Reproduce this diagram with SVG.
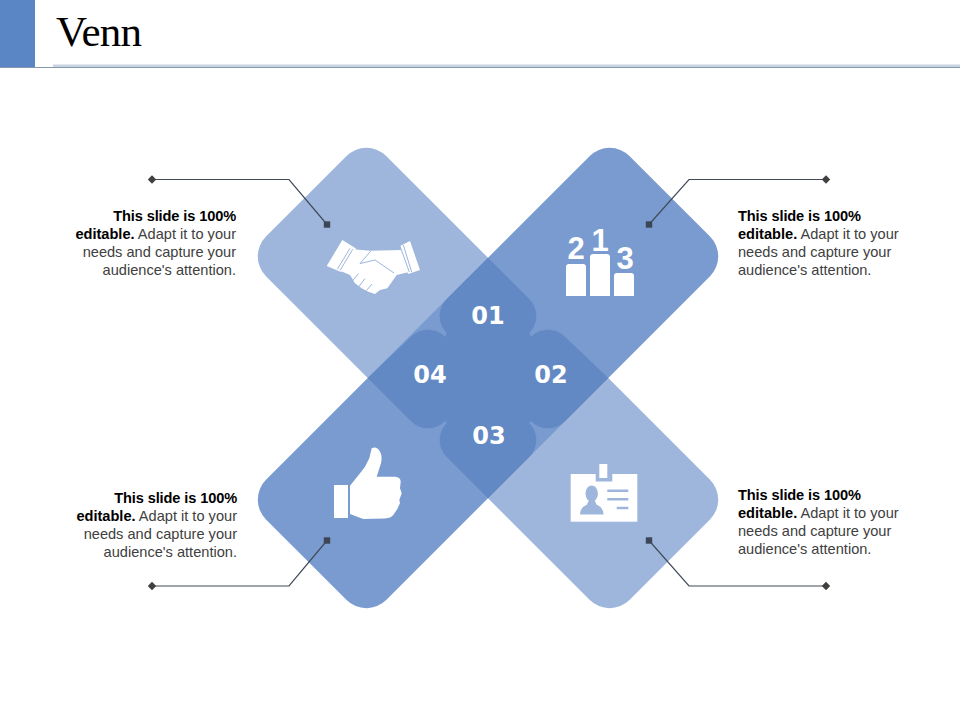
<svg xmlns="http://www.w3.org/2000/svg" width="960" height="720" viewBox="0 0 960 720">
<style>
.lt{fill:#9eb6dc}.dk{fill:#7a9bcf}.pet{fill:#6289c4;stroke:#6289c4;stroke-width:.5}
.w{fill:#fff}
.num{font:bold 24px "DejaVu Sans",sans-serif;fill:#fff;text-anchor:middle}
.pod{font:bold 31px "Liberation Sans",Arial,sans-serif;fill:#fff;text-anchor:middle}
.tx{font:14.6px "Liberation Sans",Arial,sans-serif;fill:#404040}
.tx .b{font-weight:bold;fill:#000}
.h{letter-spacing:-.12px}
.r{text-anchor:end}
.cn{fill:none;stroke:#404a58;stroke-width:1.2;marker-start:url(#dia);marker-end:url(#sq)}
.sl{fill:none;stroke:#9eb6dc;stroke-width:1}
</style>
<defs>
<marker id="dia" markerUnits="userSpaceOnUse" markerWidth="10" markerHeight="10" refX="5" refY="5" orient="0"><path d="M5 .8L9.200 5L5 9.200L.8 5Z" fill="#404040"/></marker>
<marker id="sq" markerUnits="userSpaceOnUse" markerWidth="10" markerHeight="10" refX="5" refY="5" orient="0"><rect x="1.800" y="1.800" width="6.400" height="6.400" fill="#3c4656"/></marker>
</defs>
<rect width="960" height="720" fill="#fff"/>
<g id="header">
<rect x="0" y="0" width="35" height="67.500" fill="#5b86c5"/>
<rect x="53" y="64.500" width="907" height="2.500" fill="#c6d4e4"/>
<rect x="0" y="67" width="960" height="1" fill="#8797ab"/>
<text x="56" y="46" font-family="'Liberation Serif','Times New Roman',serif" font-size="43" letter-spacing="-.8" fill="#000">Venn</text>
</g>
<g id="band-a"><rect class="lt" x="231" y="293" width="514" height="170" rx="28" transform="rotate(45 488 378)"/></g>
<g id="band-b"><rect class="dk" x="231" y="293" width="514" height="170" rx="28" transform="rotate(-45 488 378)"/></g>
<g id="node-01"><path class="pet" d="M488 258L529 299A24 24 0 0 1 529 333L530 335L488 378L446 335L447 333A24 24 0 0 1 447 299Z"/><text class="num" x="488" y="324">01</text></g>
<g id="node-02"><path class="pet" d="M608 378L565 421A24 24 0 0 1 531 421L530 421L488 378L530 335L531 337A24 24 0 0 1 565 337Z"/><text class="num" x="551" y="383">02</text></g>
<g id="node-03"><path class="pet" d="M488 498L529 457A24 24 0 0 0 529 423L530 421L488 378L446 421L447 423A24 24 0 0 0 447 457Z"/><text class="num" x="489" y="444">03</text></g>
<g id="node-04"><path class="pet" d="M368 378L411 421A24 24 0 0 0 445 421L446 421L488 378L446 335L445 337A24 24 0 0 0 411 337Z"/><text class="num" x="430" y="383">04</text></g>
<g id="icon-handshake">
<path class="w" d="M342.300 240L356 248.500L341 272L326.700 266Z"/>
<path class="w" d="M400 246L410 241L420 270L408 274Z"/>
<path class="w" d="M353.300 249.300L370 250.700L402 250L410 271.700L396.700 275L387.300 288.300L380 290L375 294L368.300 291.700L361.700 288.300L355 283.300L350 275L338.300 270Z"/>
<path class="sl" d="M350 248.300L337.300 269.300M352.700 249.300L340 270.500M400 246L409.300 272M403.300 245L411.700 272M371 250.700L360 263.500L375 260L394 273M358.500 273.500L352 281.500M365 278.500L358.500 287M372 284L366.500 290.500"/>
</g>
<g id="icon-podium">
<path class="w" d="M566 296V267a3 3 0 0 1 3-3H583a3 3 0 0 1 3 3V296Z"/>
<path class="w" d="M590 296V257a3 3 0 0 1 3-3H607a3 3 0 0 1 3 3V296Z"/>
<path class="w" d="M614 296V276a3 3 0 0 1 3-3H631a3 3 0 0 1 3 3V296Z"/>
<text class="pod" x="576" y="259">2</text><text class="pod" x="600" y="251">1</text><text class="pod" x="625" y="269">3</text>
</g>
<g id="icon-thumb">
<rect class="w" x="334" y="485" width="14" height="33"/>
<path class="w" d="M350 485.700L360 473.300L365 466.700L369.300 458.300L371.700 448.300Q376.700 446 380 451.500Q382.500 456 381 463.300L376.700 476.700H395Q400.700 477 400.700 481.700L400 488.300L401.700 493.300L399.300 500L400 503.300L397.300 509L393.300 515Q391 518 385 518.500L363.300 519L350 514Z"/>
</g>
<g id="icon-card">
<rect class="w" x="570.700" y="474" width="66.600" height="47.700"/>
<rect x="595.700" y="474" width="16.600" height="7.500" fill="#9eb6dc"/>
<rect class="w" x="599.300" y="464" width="8" height="14"/>
<ellipse cx="591.700" cy="493.500" rx="6.200" ry="8" fill="#9eb6dc"/>
<path d="M580 514.500Q580 507.500 587 504.500L589 500H594.500L596.500 504.500Q603.500 507.500 603.500 514.500Z" fill="#9eb6dc"/>
<path d="M607.300 490.700H628.300M607.300 499.300H628.300M616.700 508H628.300" fill="none" stroke="#9eb6dc" stroke-width="2.600"/>
</g>
<g id="connectors">
<path class="cn" d="M152 179.500H289L327 224.500"/>
<path class="cn" d="M826 179.500H689L649 224.500"/>
<path class="cn" d="M152 586H289L327 540.500"/>
<path class="cn" d="M826 586H689L649 540.500"/>
</g>
<g id="label-tl"><text class="tx r"><tspan class="b h" x="236" y="221">This slide is 100%</tspan></text><text class="tx r" x="236" y="239"><tspan class="b">editable.</tspan> Adapt it to your</text><text class="tx r" x="236" y="256.500">needs and capture your</text><text class="tx r" x="236" y="274.500">audience's attention.</text></g>
<g id="label-tr"><text class="tx"><tspan class="b h" x="738" y="221">This slide is 100%</tspan></text><text class="tx" x="738" y="239"><tspan class="b">editable.</tspan> Adapt it to your</text><text class="tx" x="738" y="256.500">needs and capture your</text><text class="tx" x="738" y="274.500">audience's attention.</text></g>
<g id="label-bl"><text class="tx r"><tspan class="b h" x="237" y="503">This slide is 100%</tspan></text><text class="tx r" x="237" y="521"><tspan class="b">editable.</tspan> Adapt it to your</text><text class="tx r" x="237" y="538.500">needs and capture your</text><text class="tx r" x="237" y="556.500">audience's attention.</text></g>
<g id="label-br"><text class="tx"><tspan class="b h" x="738" y="500">This slide is 100%</tspan></text><text class="tx" x="738" y="518"><tspan class="b">editable.</tspan> Adapt it to your</text><text class="tx" x="738" y="535.500">needs and capture your</text><text class="tx" x="738" y="553.500">audience's attention.</text></g>
</svg>
